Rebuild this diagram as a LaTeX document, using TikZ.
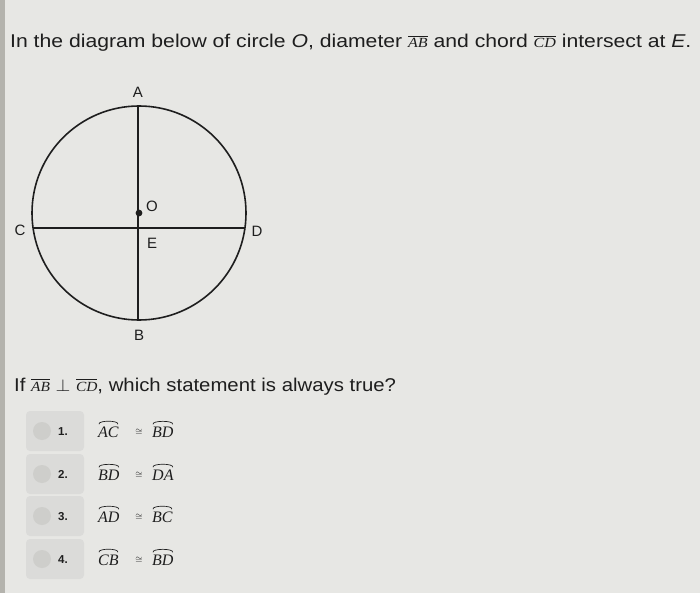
\documentclass[tikz,border=0pt]{standalone}
\usepackage{amsmath}
\usepackage{fontspec}
\setmainfont{Liberation Sans}
\newfontfamily\seriffont{Liberation Serif}
\usetikzlibrary{positioning,calc}
\usepackage{xcolor}
\definecolor{screen}{HTML}{E7E7E4}
\definecolor{edge}{HTML}{B4B3AD}
\definecolor{ink}{HTML}{1E1E1E}
\newcommand{\segm}[1]{$\overline{\hbox{\seriffont\itshape\fontsize{14}{16}\selectfont #1}}$}

\begin{document}
\begin{tikzpicture}[x=1pt, y=-1pt]
    \tikzstyle{txt} = [anchor=base west, inner sep=0pt, text=ink, font=\fontsize{18.5}{22}\selectfont]
    \tikzstyle{pointlbl} = [inner sep=0pt, text=ink, font=\fontsize{15}{18}\selectfont]
    \tikzstyle{num} = [anchor=base west, inner sep=0pt, text=ink, font=\fontsize{11.5}{13}\selectfont\bfseries]
    \tikzstyle{arcs} = [anchor=base west, inner sep=0pt, text=ink, font=\fontsize{16}{18}\selectfont\seriffont\itshape]
    \tikzstyle{cong} = [inner sep=0pt, text=ink, font=\fontsize{9}{10}\selectfont]
    \tikzstyle{radio} = [rectangle, rounded corners=4pt, fill=screen!95!black, minimum width=58pt, minimum height=40pt]

    % Hintergrund
    \fill[screen] (0,0) rectangle (700,593);
    \fill[edge] (0,0) rectangle (5,593);
    \useasboundingbox (0,0) rectangle (700,593);

    % Frage
    \node[txt] (title) at (10,48) {\scalebox{1.145}[1]{In the diagram below of circle \textit{O}, diameter \segm{AB} and chord \segm{CD} intersect at \textit{E}.}};

    % Kreis
    \coordinate (O) at (139,213);
    \draw[line width=1.6pt, ink] (O) circle (107);
    \coordinate (A) at (138,106);
    \coordinate (B) at (138,320);
    \coordinate (C) at ($(O)+(-106.2,15)$);
    \coordinate (D) at ($(O)+(106.2,15)$);
    \coordinate (E) at (138,228);
    \draw[line width=1.5pt, ink] (A) -- (B);
    \draw[line width=1.5pt, ink] (C) -- (D);
    \fill[ink] (O) circle (3.4);

    \node[pointlbl] (lA) at (138,92) {A};
    \node[pointlbl] (lB) at (139,335) {B};
    \node[pointlbl] (lC) at (20,230) {C};
    \node[pointlbl] (lD) at (257,231) {D};
    \node[pointlbl] (lO) at (152,206) {O};
    \node[pointlbl] (lE) at (152,243) {E};

    % Antworten
    \node[txt] (ask) at (14,391) {\scalebox{1.1}[1]{If \segm{AB} $\perp$ \segm{CD}, which statement is always true?}};

    \foreach \y/\n/\p/\q in {437/1/AC/BD, 480/2/BD/DA, 522/3/AD/BC, 565/4/CB/BD} {
        \node[radio] (box\n) at (55,\y-6) {};
        \fill[screen!89!black] (42,\y-6) circle (9);
        \node[num] (n\n) at (58,\y-2) {\n.};
        \node[arcs] (p\n) at (98,\y) {\p};
        \node[arcs] (q\n) at (152,\y) {\q};
        \node[cong] (c\n) at (139,\y-5) {$\cong$};
        \draw[ink, line width=0.7pt] ([yshift=2pt, xshift=1pt]p\n.north west) .. controls ([yshift=6pt]p\n.north west) and ([yshift=6pt]p\n.north east) .. ([yshift=2pt, xshift=-1pt]p\n.north east);
        \draw[ink, line width=0.7pt] ([yshift=2pt, xshift=1pt]q\n.north west) .. controls ([yshift=6pt]q\n.north west) and ([yshift=6pt]q\n.north east) .. ([yshift=2pt, xshift=-1pt]q\n.north east);
    }
\end{tikzpicture}
\end{document}
